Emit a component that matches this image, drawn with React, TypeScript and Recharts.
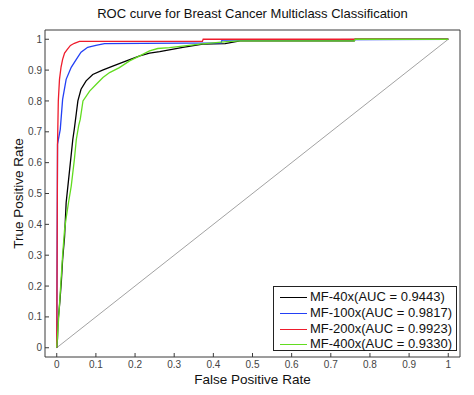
import React from 'react';
import { LineChart, Line, XAxis, YAxis } from 'recharts';

const title = 'ROC curve for Breast Cancer Multiclass Classification';
const xLabel = 'False Positive Rate';
const yLabel = 'True Positive Rate';
const tickValues = [0, 0.1, 0.2, 0.3, 0.4, 0.5, 0.6, 0.7, 0.8, 0.9, 1];

const seriesNames = [
  'MF-40x(AUC = 0.9443)',
  'MF-100x(AUC = 0.9817)',
  'MF-200x(AUC = 0.9923)',
  'MF-400x(AUC = 0.9330)',
];
const seriesColors = ['#000000', '#2340f5', '#ee1c2c', '#62dc20'];

const fpr40 = [0, 0.002, 0.003, 0.008, 0.012, 0.015, 0.02, 0.024, 0.033, 0.041, 0.045, 0.05, 0.054, 0.062, 0.075, 0.092, 0.117, 0.143, 0.178, 0.212, 0.237, 0.263, 0.322, 0.373, 0.43, 0.468, 0.76, 0.762, 1];
const tpr40 = [0, 0.03, 0.08, 0.15, 0.22, 0.286, 0.36, 0.47, 0.578, 0.675, 0.71, 0.76, 0.8, 0.838, 0.865, 0.886, 0.9, 0.913, 0.93, 0.946, 0.955, 0.96, 0.974, 0.984, 0.986, 0.995, 0.995, 1, 1];

const fpr100 = [0, 0.001, 0.002, 0.009, 0.015, 0.024, 0.037, 0.05, 0.062, 0.079, 0.1, 0.122, 0.42, 0.422, 1];
const tpr100 = [0, 0.35, 0.66, 0.708, 0.805, 0.87, 0.909, 0.935, 0.958, 0.974, 0.98, 0.986, 0.988, 0.997, 1];

const fpr200 = [0, 0.001, 0.002, 0.004, 0.007, 0.011, 0.015, 0.02, 0.027, 0.035, 0.045, 0.058, 0.372, 0.374, 1];
const tpr200 = [0, 0.3, 0.66, 0.8, 0.87, 0.91, 0.935, 0.955, 0.967, 0.98, 0.987, 0.993, 0.993, 1, 1];

const fpr400 = [0, 0.005, 0.01, 0.015, 0.02, 0.024, 0.03, 0.037, 0.045, 0.05, 0.056, 0.06, 0.067, 0.084, 0.101, 0.118, 0.135, 0.16, 0.186, 0.212, 0.237, 0.258, 0.288, 0.365, 0.434, 0.47, 0.76, 0.762, 1];
const tpr400 = [0, 0.1, 0.2, 0.3, 0.383, 0.42, 0.47, 0.524, 0.61, 0.675, 0.72, 0.74, 0.8, 0.832, 0.854, 0.876, 0.892, 0.908, 0.93, 0.946, 0.962, 0.97, 0.973, 0.984, 0.992, 0.995, 0.995, 1, 1];

const diagFpr = [0, 1];
const diagTpr = [0, 1];

const toPoints = (xs: number[], ys: number[]) => xs.map((x, i) => ({ x, y: ys[i] }));

const series = [
  toPoints(fpr40, tpr40),
  toPoints(fpr100, tpr100),
  toPoints(fpr200, tpr200),
  toPoints(fpr400, tpr400),
];
const diag = toPoints(diagFpr, diagTpr);

const FONT = '"Liberation Sans", Arial, sans-serif';
const AXIS_COLOR = '#3a3a3a';
const DOMAIN: [number, number] = [-0.03, 1.03];

const LegendBox = () => (
  <div
    style={{
      position: 'absolute',
      left: 273,
      top: 286,
      width: 184,
      height: 65,
      border: '1px solid #222',
      background: '#fff',
      fontFamily: FONT,
      fontSize: 13,
      color: '#111',
      boxSizing: 'border-box',
    }}
  >
    {seriesNames.map((n, i) => (
      <div
        key={n}
        style={{ position: 'absolute', left: 0, top: 2 + i * 16 - (i === 3 ? 1 : 0), height: 16, display: 'flex', alignItems: 'center' }}
      >
        <svg width={36} height={16} style={{ display: 'block' }}>
          <line x1={6} x2={33} y1={8.5} y2={8.5} stroke={seriesColors[i]} strokeWidth={1} />
        </svg>
        <span style={{ whiteSpace: 'nowrap', lineHeight: '16px' }}>{n}</span>
      </div>
    ))}
  </div>
);

export default function App() {
  return (
    <div style={{ position: 'absolute', left: 0, top: 0, width: 474, height: 395, background: '#fff' }}>
      <div
        style={{
          position: 'absolute',
          left: 45,
          width: 415,
          top: 6,
          textAlign: 'center',
          fontFamily: FONT,
          fontSize: 13,
          color: '#111',
        }}
      >
        {title}
      </div>
      <LineChart width={474} height={395} margin={{ top: 29, right: 13, bottom: 0, left: 0 }}>
        <XAxis
          xAxisId="bottom"
          dataKey="x"
          type="number"
          domain={DOMAIN}
          allowDataOverflow
          ticks={tickValues}
          interval={0}
          height={38}
          tickSize={-4}
          tickMargin={8}
          stroke={AXIS_COLOR}
          tick={{ fill: '#444', fontSize: 10, fontFamily: FONT }}
          label={{ value: xLabel, position: 'insideBottom', offset: 11, fill: '#111', fontSize: 13.5, fontFamily: FONT }}
        />
        <XAxis
          xAxisId="top"
          orientation="top"
          dataKey="x"
          type="number"
          domain={DOMAIN}
          allowDataOverflow
          ticks={tickValues}
          interval={0}
          height={1}
          tickSize={-4}
          tick={false}
          stroke={AXIS_COLOR}
        />
        <YAxis
          yAxisId="left"
          dataKey="y"
          type="number"
          domain={DOMAIN}
          allowDataOverflow
          ticks={tickValues}
          interval={0}
          width={45}
          tickSize={-4}
          tickMargin={7}
          stroke={AXIS_COLOR}
          tick={{ fill: '#444', fontSize: 10, fontFamily: FONT }}
          label={{ value: yLabel, angle: -90, position: 'insideLeft', offset: 18, fill: '#111', fontSize: 13.5, fontFamily: FONT, style: { textAnchor: 'middle' } }}
        />
        <YAxis
          yAxisId="right"
          orientation="right"
          dataKey="y"
          type="number"
          domain={DOMAIN}
          allowDataOverflow
          ticks={tickValues}
          interval={0}
          width={1}
          tickSize={-4}
          tick={false}
          stroke={AXIS_COLOR}
        />
        <Line
          xAxisId="bottom"
          yAxisId="left"
          data={diag}
          dataKey="y"
          type="linear"
          stroke="#8a8a8a"
          strokeWidth={0.8}
          dot={false}
          isAnimationActive={false}
        />
        {series.map((d, i) => (
          <Line
            key={seriesNames[i]}
            xAxisId="bottom"
            yAxisId="left"
            data={d}
            dataKey="y"
            name={seriesNames[i]}
            type="linear"
            stroke={seriesColors[i]}
            strokeWidth={1.3}
            dot={false}
            isAnimationActive={false}
          />
        ))}
      </LineChart>
      <LegendBox />
    </div>
  );
}
